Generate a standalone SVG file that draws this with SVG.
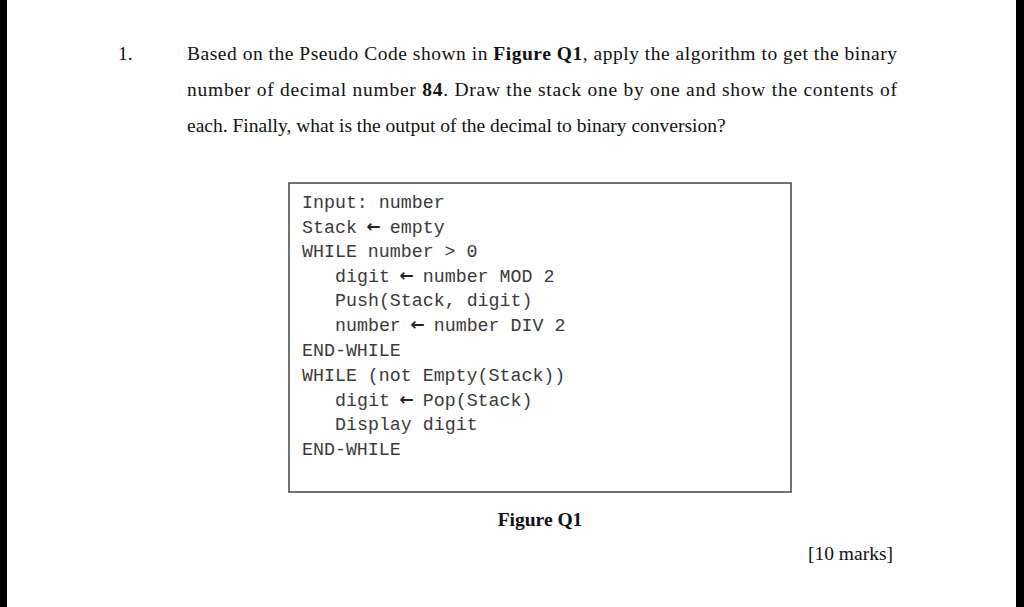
<svg xmlns="http://www.w3.org/2000/svg" width="1024" height="607" viewBox="0 0 1024 607">
<style>
.t{font-family:"Liberation Serif",serif;font-size:19.5px;fill:#111}
.c{font-family:"Liberation Mono",monospace;font-size:18.3px;fill:#3a3a3a;white-space:pre}
.a{font-family:"DejaVu Sans",sans-serif;font-weight:bold;font-size:17px;fill:#222;text-anchor:middle}
</style>
<rect width="1024" height="607" fill="#fff"/>
<rect x="0" y="0" width="7" height="607" fill="#000"/>
<rect x="1016" y="0" width="8" height="607" fill="#000"/>
<g id="question">
<text class="t" x="118" y="60">1.</text>
<text class="t" x="187" y="60" textLength="710" lengthAdjust="spacing">Based on the Pseudo Code shown in <tspan font-weight="bold">Figure Q1</tspan>, apply the algorithm to get the binary</text>
<text class="t" x="187" y="96" textLength="710" lengthAdjust="spacing">number of decimal number <tspan font-weight="bold">84</tspan>. Draw the stack one by one and show the contents of</text>
<text class="t" x="187" y="132">each. Finally, what is the output of the decimal to binary conversion?</text>
</g>
<g id="code">
<rect x="289" y="183" width="502" height="309" fill="none" stroke="#444" stroke-width="1.5"/>
<text class="c" x="302" y="208">Input: number</text>
<text class="c" x="302" y="233" xml:space="preserve">Stack   empty</text>
<text class="a" x="373.5" y="232">←</text>
<text class="c" x="302" y="257">WHILE number &gt; 0</text>
<text class="c" x="335" y="282" xml:space="preserve">digit   number MOD 2</text>
<text class="a" x="406.5" y="281">←</text>
<text class="c" x="335" y="306">Push(Stack, digit)</text>
<text class="c" x="335" y="331" xml:space="preserve">number   number DIV 2</text>
<text class="a" x="417.5" y="330">←</text>
<text class="c" x="302" y="356">END-WHILE</text>
<text class="c" x="302" y="381">WHILE (not Empty(Stack))</text>
<text class="c" x="335" y="406" xml:space="preserve">digit   Pop(Stack)</text>
<text class="a" x="406.5" y="405">←</text>
<text class="c" x="335" y="430">Display digit</text>
<text class="c" x="302" y="455">END-WHILE</text>
</g>
<text class="t" x="540" y="526" text-anchor="middle" font-weight="bold">Figure Q1</text>
<text class="t" x="808" y="560">[10 marks]</text>
</svg>
